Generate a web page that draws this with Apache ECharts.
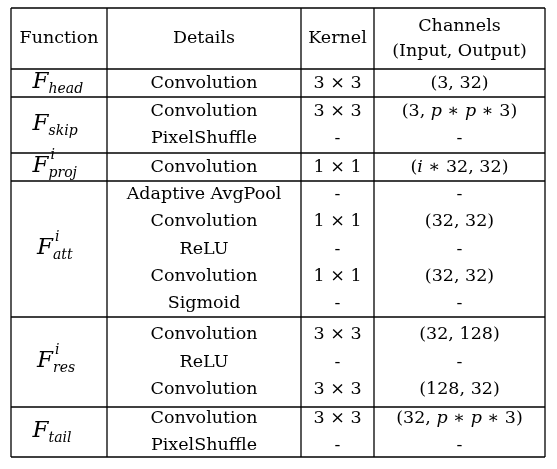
<!DOCTYPE html>
<html><head><meta charset="utf-8">
<script src="https://cdn.jsdelivr.net/npm/echarts@6/dist/echarts.min.js"></script>
<style>html,body{margin:0;padding:0;background:#fff}#c{width:557px;height:469px}</style>
</head><body><div id="c"></div>
<script>
const headers = ["Function", "Details", "Kernel", "Channels\n(Input, Output)"];
const funcSub = ["head", "skip", "proj", "att", "res", "tail"];
const funcSup = ["", "", "i", "i", "i", ""];
const details = [
  ["Convolution"],
  ["Convolution", "PixelShuffle"],
  ["Convolution"],
  ["Adaptive AvgPool", "Convolution", "ReLU", "Convolution", "Sigmoid"],
  ["Convolution", "ReLU", "Convolution"],
  ["Convolution", "PixelShuffle"]
];
const kernels = [
  ["3 × 3"], ["3 × 3", "-"], ["1 × 1"],
  ["-", "1 × 1", "-", "1 × 1", "-"],
  ["3 × 3", "-", "3 × 3"], ["3 × 3", "-"]
];
const channels = [
  ["(3, 32)"], ["(3, {i|p} ∗ {i|p} ∗ 3)", "-"], ["({i|i} ∗ 32, 32)"],
  ["-", "(32, 32)", "-", "(32, 32)", "-"],
  ["(32, 128)", "-", "(128, 32)"], ["(32, {i|p} ∗ {i|p} ∗ 3)", "-"]
];

const colX = [11, 107, 301, 374, 545];
const top0 = 8, headerBottom = 69;
const groupBounds = [69, 97, 153, 181, 317, 407, 457];
const font = '"DejaVu Serif", "Liberation Serif", serif';
const fs = 17.5;
const rowH = 27.3;
const g = [];
function hline(y){ g.push({type:'line', shape:{x1:colX[0], y1:y, x2:colX[4], y2:y}, style:{stroke:'#000', lineWidth:1.3}}); }
function vline(x){ g.push({type:'line', shape:{x1:x, y1:top0, x2:x, y2:groupBounds[groupBounds.length-1]}, style:{stroke:'#000', lineWidth:1.3}}); }
hline(top0); groupBounds.forEach(hline); colX.forEach(vline);
const rich = {i:{fontFamily:font, fontSize:fs, fontStyle:'italic', fill:'#000'}};
function txt(x, y, s){
  g.push({type:'text', style:{x:x, y:y, text:s, font: fs+'px '+font, fill:'#000', align:'center', verticalAlign:'middle', lineHeight:25, rich:rich}});
}
headers.forEach((h,i)=>{ txt((colX[i]+colX[i+1])/2, (top0+headerBottom)/2, h); });
for (let gi=0; gi<details.length; gi++){
  const y0 = groupBounds[gi], y1 = groupBounds[gi+1];
  const n = details[gi].length;
  const cy = (y0+y1)/2;
  const cx = (colX[0]+colX[1])/2;
  const subW = funcSub[gi].length*9;
  const fx = cx - (17+subW)/2;
  g.push({type:'text', style:{x:fx, y:cy-1, text:'F', font:'italic 23px '+font, fill:'#000', align:'left', verticalAlign:'middle'}});
  g.push({type:'text', style:{x:fx+16, y:cy+6, text:funcSub[gi], font:'italic 14px '+font, fill:'#000', align:'left', verticalAlign:'middle'}});
  if (funcSup[gi]) g.push({type:'text', style:{x:fx+18, y:cy-12, text:funcSup[gi], font:'italic 14px '+font, fill:'#000', align:'left', verticalAlign:'middle'}});
  for (let r=0; r<n; r++){
    const y = cy + rowH*(r-(n-1)/2);
    txt((colX[1]+colX[2])/2, y, details[gi][r]);
    txt((colX[2]+colX[3])/2, y, kernels[gi][r]);
    txt((colX[3]+colX[4])/2, y, channels[gi][r]);
  }
}
const chart = echarts.init(document.getElementById('c'));
chart.setOption({animation:false, graphic:g});
</script></body></html>
